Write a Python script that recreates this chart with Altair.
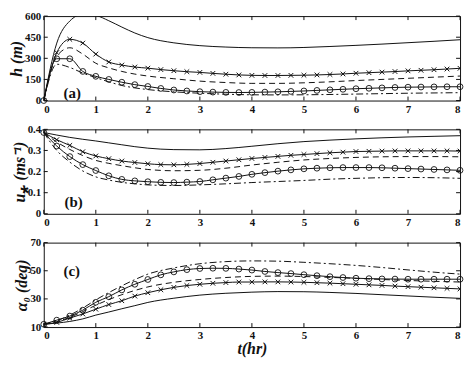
import altair as alt
import pandas as pd

# ---------------- data ----------------
T_MARK = [0, 0.25, 0.5, 0.75, 1, 1.25, 1.5, 1.75, 2, 2.25, 2.5, 2.75, 3, 3.25, 3.5, 3.75,
          4, 4.25, 4.5, 4.75, 5, 5.25, 5.5, 5.75, 6, 6.25, 6.5, 6.75, 7, 7.25, 7.5, 7.75, 8]
T_LINE = [0, 0.25, 0.5, 0.75, 1, 1.25, 1.5, 1.75, 2, 2.5, 3, 3.5, 4, 4.5, 5, 5.5, 6, 6.5, 7, 7.5, 8]

# panel (a): h (m)
H_SOLID = [0, 408, 565, 612, 604, 567, 522, 480, 447, 410, 390, 380, 375, 374, 377, 384, 392, 401, 411, 421, 432]
H_CROSS = [0, 341, 435, 408, 330, 274, 252, 238, 230, 220, 212, 205, 200, 193, 187, 182, 179, 178, 178, 179,
           180, 182, 185, 189, 194, 198, 202, 206, 211, 215, 219, 224, 229]
H_DASH = [0, 315, 375, 330, 265, 232, 207, 188, 174, 155, 138, 128, 122, 122, 126, 133, 142, 150, 158, 166, 174]
H_CIRC = [0, 297, 297, 207, 172, 150, 130, 113, 100, 86, 75, 68, 63, 60, 58, 57, 58, 60, 62, 65,
          68, 72, 76, 80, 84, 87, 90, 93, 95, 96, 97, 98, 98]
H_DDOT = [0, 258, 235, 195, 163, 133, 107, 90, 78, 62, 52, 45, 41, 40, 41, 43, 46, 49, 52, 54, 56]

# panel (b): u* (m/s)
U_SOLID = [0.385, 0.373, 0.362, 0.353, 0.345, 0.336, 0.327, 0.318, 0.311, 0.304, 0.303, 0.309, 0.32, 0.332,
           0.342, 0.349, 0.355, 0.36, 0.364, 0.367, 0.37]
U_CROSS = [0.385, 0.351, 0.324, 0.294, 0.274, 0.261, 0.25, 0.243, 0.237, 0.233, 0.232, 0.234, 0.238, 0.244,
           0.25, 0.256, 0.262, 0.267, 0.272, 0.277, 0.281, 0.285, 0.289, 0.292, 0.295, 0.296, 0.297, 0.298,
           0.298, 0.298, 0.298, 0.298, 0.297]
U_DASH = [0.385, 0.34, 0.305, 0.276, 0.253, 0.239, 0.228, 0.218, 0.21, 0.204, 0.206, 0.216, 0.231, 0.244,
          0.255, 0.262, 0.267, 0.27, 0.271, 0.271, 0.27]
U_CIRC = [0.385, 0.321, 0.271, 0.233, 0.205, 0.18, 0.163, 0.156, 0.152, 0.149, 0.148, 0.15, 0.153, 0.161,
          0.169, 0.177, 0.187, 0.195, 0.202, 0.208, 0.213, 0.216, 0.218, 0.219, 0.219, 0.219, 0.218, 0.216,
          0.214, 0.212, 0.21, 0.208, 0.206]
U_DDOT = [0.385, 0.3, 0.245, 0.203, 0.175, 0.16, 0.149, 0.142, 0.137, 0.134, 0.137, 0.142, 0.148, 0.153,
          0.158, 0.164, 0.168, 0.171, 0.172, 0.171, 0.168]

# panel (c): alpha0 (deg)
A_SOLID = [12, 12.8, 14, 15.8, 18.5, 20.7, 23, 25.2, 27.5, 30.5, 32.7, 34, 34.8, 35.2, 35.1, 34.6, 33.9,
           33, 32.1, 31.2, 30.4]
A_CROSS = [12, 13.3, 16.4, 19.3, 22.7, 26, 28.7, 32, 34.4, 36.5, 38.2, 39.5, 40.4, 41.1, 41.6, 42, 42,
           42.1, 42.1, 42, 41.8, 41.5, 41.2, 40.8, 40.4, 40, 39.6, 39.1, 38.7, 38.3, 37.9, 37.5, 37.1]
A_DASH = [12, 13.8, 17, 21, 25.5, 29.5, 33, 36, 38.5, 41.8, 43.8, 45.2, 46, 46.2, 45.9, 45.3, 44.6, 43.8,
          43.1, 42.5, 42]
A_CIRC = [12, 14.9, 17.8, 22, 27.6, 31.6, 36.4, 40.4, 43.8, 47.1, 49.2, 50.8, 51.6, 51.8, 51.7, 51.2, 50.5,
          49.5, 48.7, 48, 47.2, 46.5, 45.8, 45.2, 44.7, 44.4, 44.2, 44.1, 44, 44, 44, 44, 44]
A_DDOT = [12, 14.5, 18.5, 23.5, 29.3, 34.5, 39.3, 43.7, 47.6, 52, 55, 56.5, 57, 56.8, 56, 55, 53.8, 52.3,
          50.6, 49, 47.6]

X_TICKS = [0, 1, 2, 3, 4, 5, 6, 7, 8]
H_TICKS = [0, 150, 300, 450, 600]
U_TICKS = [0, 0.1, 0.2, 0.3, 0.4]
A_TICKS = [10, 30, 50, 70]

# ---------------- style ----------------
W, H = 419, 85
INK = "#111111"
FONT = "Liberation Serif"
XPATH = "M-1,-1L1,1M-1,1L1,-1"


def panel(solid, cross, dashed, circ, ddot, ydom, yticks, yfmt, ytitle, tag, tag_t, tag_v, xtitle=""):
    xs = alt.Scale(domain=[0, 8], nice=False, zero=False)
    ys = alt.Scale(domain=ydom, nice=False, zero=False)
    xax = alt.Axis(values=X_TICKS, format="d", labelPadding=3, titlePadding=0, title=xtitle)
    yax = alt.Axis(values=yticks, format=yfmt, title=ytitle, labelPadding=3, titlePadding=0)
    X = alt.X("t:Q", scale=xs, axis=xax)
    Y = alt.Y("v:Q", scale=ys, axis=yax)

    def df(ts, vs):
        return pd.DataFrame({"t": ts, "v": vs})

    layers = []
    layers.append(alt.Chart(df(T_LINE, solid)).mark_line(
        color=INK, strokeWidth=1, interpolate="monotone", clip=True).encode(x=X, y=Y))
    layers.append(alt.Chart(df(T_MARK, cross)).mark_line(
        color=INK, strokeWidth=1, interpolate="monotone", clip=True).encode(x=X, y=Y))
    layers.append(alt.Chart(df(T_MARK, cross)).mark_point(
        shape=XPATH, size=22, color=INK, strokeWidth=1, filled=False, opacity=1, clip=True).encode(x=X, y=Y))
    layers.append(alt.Chart(df(T_LINE, dashed)).mark_line(
        color=INK, strokeWidth=1, strokeDash=[6, 4], interpolate="monotone", clip=True).encode(x=X, y=Y))
    layers.append(alt.Chart(df(T_MARK, circ)).mark_line(
        color=INK, strokeWidth=1, interpolate="monotone", clip=True).encode(x=X, y=Y))
    layers.append(alt.Chart(df(T_MARK, circ)).mark_point(
        shape="circle", size=34, color=INK, strokeWidth=0.9, filled=False, opacity=1).encode(x=X, y=Y))
    layers.append(alt.Chart(df(T_LINE, ddot)).mark_line(
        color=INK, strokeWidth=1, strokeDash=[7, 3, 2, 3], interpolate="monotone", clip=True).encode(x=X, y=Y))

    # inward ticks (MATLAB style) on all four sides
    ytk = pd.DataFrame({"v": yticks})
    xtk = pd.DataFrame({"t": X_TICKS})
    layers.append(alt.Chart(ytk).mark_rule(color=INK, strokeWidth=1).encode(
        y=Y, x=alt.value(0), x2=alt.value(4)))
    layers.append(alt.Chart(ytk).mark_rule(color=INK, strokeWidth=1).encode(
        y=Y, x=alt.value(W - 4), x2=alt.value(W)))
    layers.append(alt.Chart(xtk).mark_rule(color=INK, strokeWidth=1).encode(
        x=X, y=alt.value(H - 4), y2=alt.value(H)))
    layers.append(alt.Chart(xtk).mark_rule(color=INK, strokeWidth=1).encode(
        x=X, y=alt.value(0), y2=alt.value(4)))

    lab = pd.DataFrame({"t": [tag_t], "v": [tag_v], "s": [tag]})
    layers.append(alt.Chart(lab).mark_text(
        align="left", baseline="alphabetic", font=FONT, fontSize=15, fontWeight="bold", color=INK
    ).encode(x=X, y=Y, text="s:N"))

    return alt.layer(*layers).properties(width=W, height=H)


pa = panel(H_SOLID, H_CROSS, H_DASH, H_CIRC, H_DDOT, [0, 600], H_TICKS, "d", "h (m)", "(a)", 0.38, 17)
pb = panel(U_SOLID, U_CROSS, U_DASH, U_CIRC, U_DDOT, [0, 0.4], U_TICKS, "~g", "u⁎ (ms⁻¹)", "(b)", 0.40, 0.032)
pc = panel(A_SOLID, A_CROSS, A_DASH, A_CIRC, A_DDOT, [10, 70], A_TICKS, "d", "α₀ (deg)", "(c)", 0.38, 46.5,
           xtitle="t(hr)")

chart = alt.vconcat(pa, pb, pc, spacing=29, bounds="flush").properties(
    padding=0
).configure_view(
    stroke=INK, strokeWidth=1
).configure_axis(
    domain=False, ticks=False, grid=False,
    labelFont=FONT, labelFontWeight="bold", labelFontSize=11, labelColor=INK,
    titleFont=FONT, titleFontWeight="bold", titleFontStyle="italic", titleFontSize=16, titleColor=INK
)

chart.save("out.html", embed_options={"renderer": "svg", "actions": False})
